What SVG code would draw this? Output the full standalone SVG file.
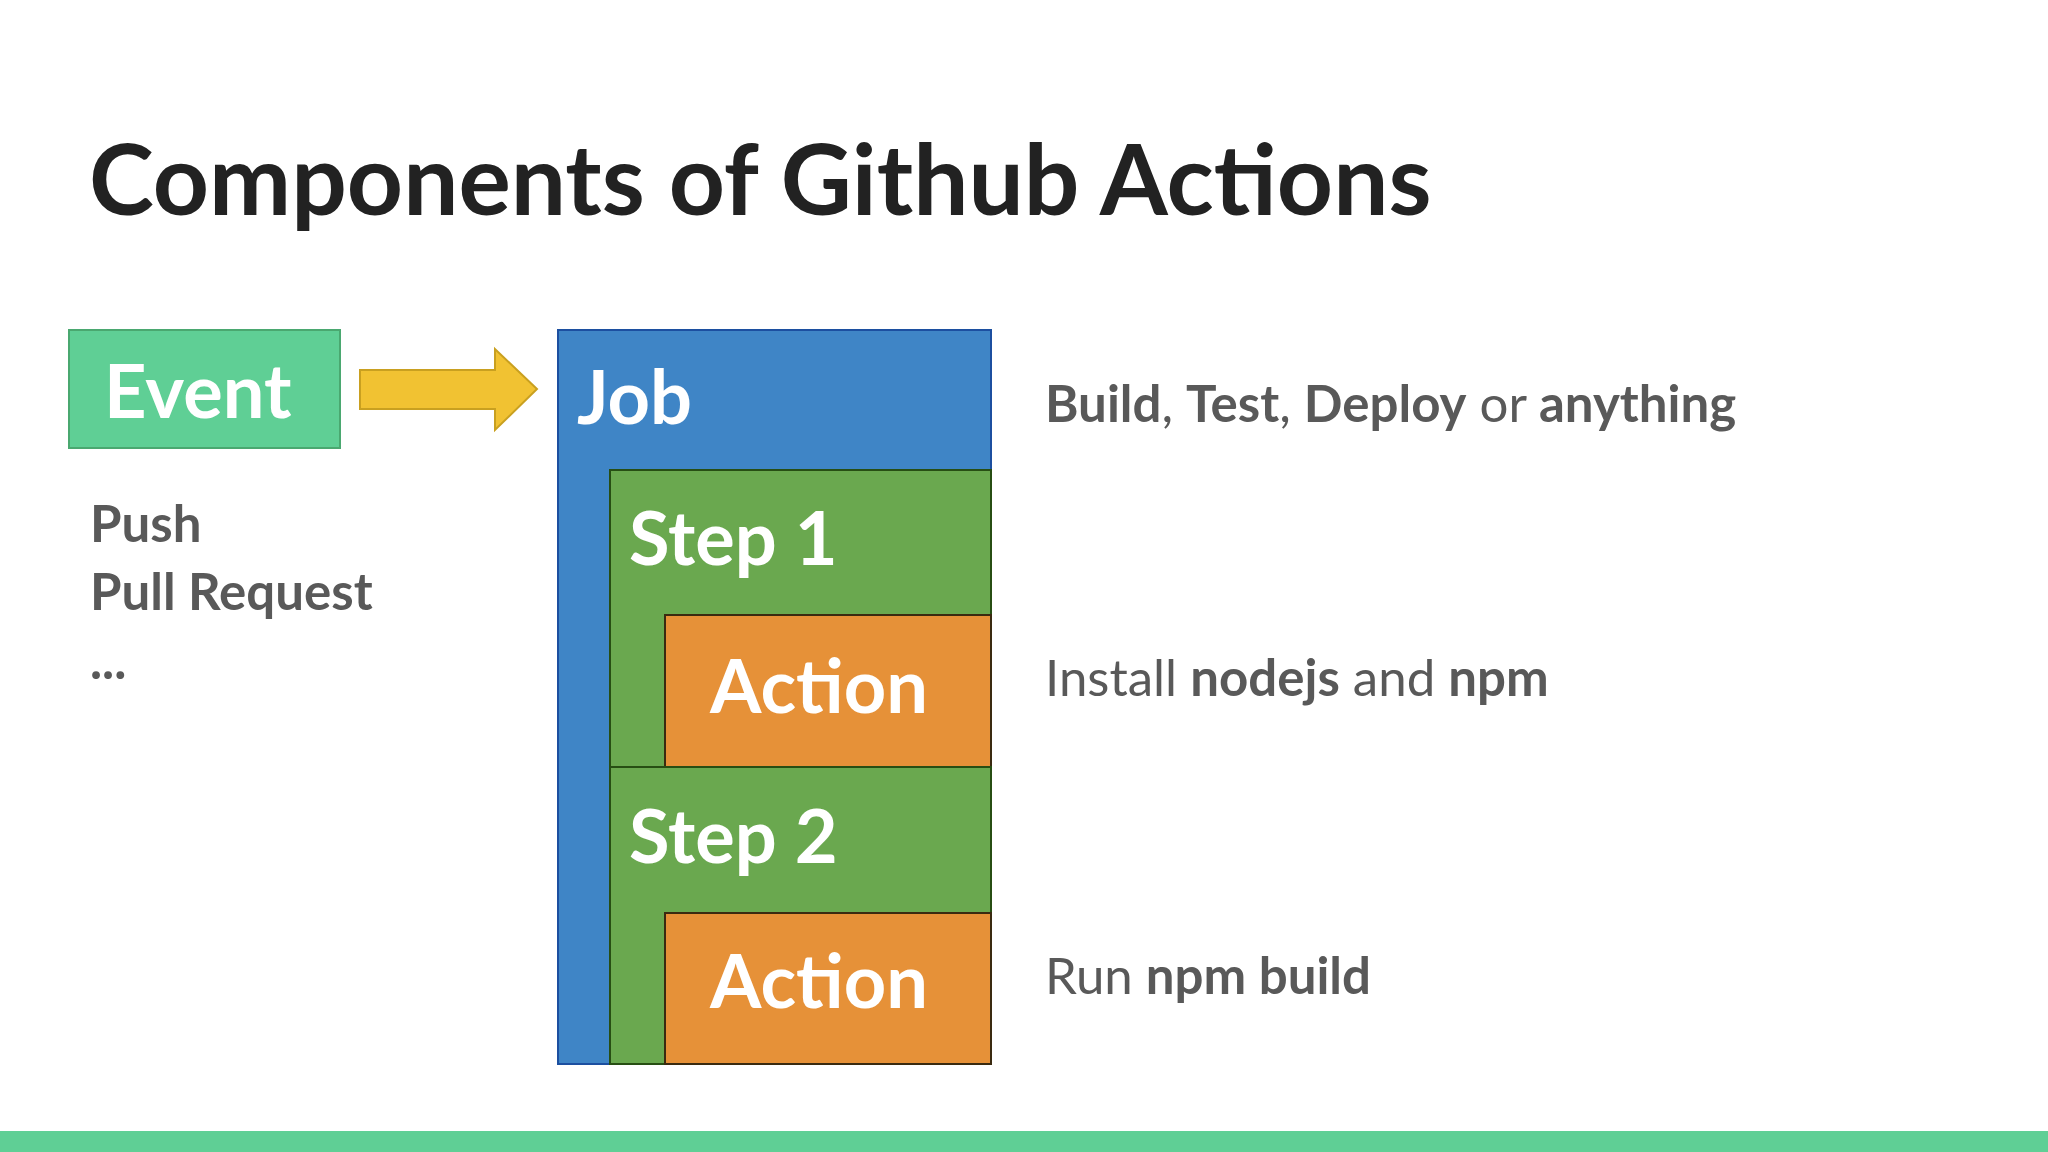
<svg xmlns="http://www.w3.org/2000/svg" width="2048" height="1152" viewBox="0 0 2048 1152">
<style>
text{font-family:Lato,"Open Sans","Liberation Sans",sans-serif}
.w{fill:#fff;font-weight:bold;font-size:74px}
.g{fill:#595959;font-size:51px}
.b{font-weight:bold}
</style>
<rect width="2048" height="1152" fill="#fff"/>
<text x="89" y="215" font-size="98" font-weight="bold" fill="#222">Components of Github Actions</text>
<g id="event"><rect x="69" y="330" width="271" height="118" fill="#5fcf95" stroke="#4aa870" stroke-width="2"/><text class="w" x="104" y="418">Event</text></g>
<g id="connectors"><polygon points="360,370 495,370 495,349 537,389 495,430 495,409 360,409" fill="#f1c232" stroke="#c9a020" stroke-width="2"/></g>
<g id="job"><rect x="558" y="330" width="433" height="734" fill="#3f85c6" stroke="#1c4fa0" stroke-width="2"/><text class="w" x="577" y="424">Job</text></g>
<g id="step1"><rect x="610" y="470" width="381" height="297" fill="#6aa84f" stroke="#274e13" stroke-width="2"/><text class="w" x="629" y="565">Step 1</text></g>
<g id="action1"><rect x="665" y="615" width="326" height="152" fill="#e69138" stroke="#3a2a10" stroke-width="2"/><text class="w" x="710" y="713">Action</text></g>
<g id="step2"><rect x="610" y="767" width="381" height="297" fill="#6aa84f" stroke="#274e13" stroke-width="2"/><text class="w" x="629" y="863">Step 2</text></g>
<g id="action2"><rect x="665" y="913" width="326" height="151" fill="#e69138" stroke="#3a2a10" stroke-width="2"/><text class="w" x="710" y="1008">Action</text></g>
<g id="left"><text class="g b" x="90" y="542">Push</text><text class="g b" x="90" y="610">Pull Request</text><text class="g b" x="90" y="679">...</text></g>
<g id="right">
<text class="g" x="1045" y="422"><tspan class="b">Build</tspan>, <tspan class="b">Test</tspan>, <tspan class="b">Deploy</tspan> or <tspan class="b">anything</tspan></text>
<text class="g" x="1045" y="696">Install <tspan class="b">nodejs</tspan> and <tspan class="b">npm</tspan></text>
<text class="g" x="1045" y="994">Run <tspan class="b">npm build</tspan></text>
</g>
<rect x="0" y="1131" width="2048" height="21" fill="#5fcf95"/>
</svg>
